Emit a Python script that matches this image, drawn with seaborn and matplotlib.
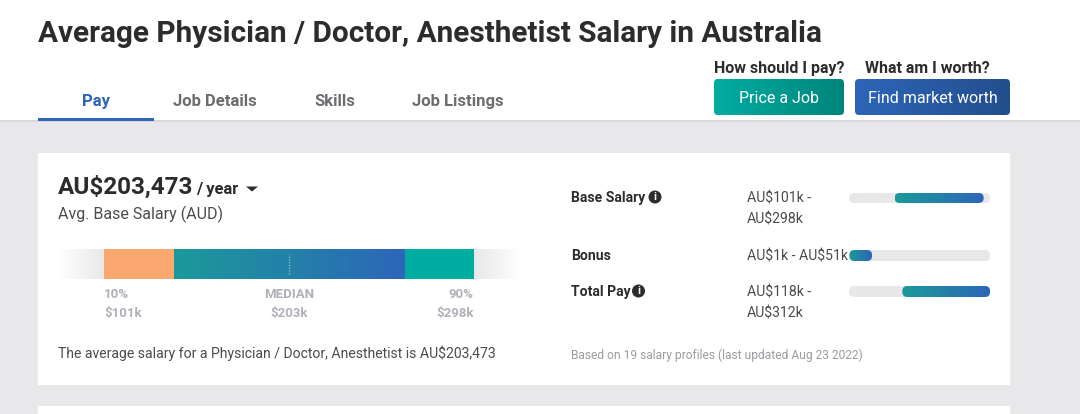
import matplotlib
matplotlib.use('Agg')
import matplotlib.pyplot as plt
from matplotlib.colors import LinearSegmentedColormap
from matplotlib.patches import Circle, FancyBboxPatch, Polygon, Rectangle
import numpy as np
import seaborn as sns

# Datos de la tarjeta
title = 'Average Physician / Doctor, Anesthetist Salary in Australia'
tabs = ['Pay', 'Job Details', 'Skills', 'Job Listings']
prompts = ['How should I pay?', 'What am I worth?']
buttons = ['Price a Job', 'Find market worth']

# Banda principal: anchos en % de la pista
band_widths = [10, 15, 50, 15, 10]
band_marks = [10, 50, 90]
band_mark_names = ['10%', 'MEDIAN', '90%']
band_mark_values = ['$101k', '$203k', '$298k']

# Rangos de la derecha, en miles de AUD
pay_names = ['Base Salary', 'Bonus', 'Total Pay']
pay_lows = [101, 1, 118]
pay_highs = [298, 51, 312]
pay_labels = [['AU$101k -', 'AU$298k'], ['AU$1k - AU$51k'], ['AU$118k -', 'AU$312k']]

W, H = 1080, 414
DARK = '#2e2b2b'
TEXT = '#4b4b4f'
GREY_BG = '#e8e8ea'
BLUE = '#2d66b9'
TEAL = '#00ada2'
ORANGE = '#fba870'
MID_TEAL = '#1b9a9a'

sns.set_theme(style='white')
plt.rcParams['font.family'] = ['Roboto', 'DejaVu Sans']


def px_axes(fig, x0, y0, x1, y1):
    ax = fig.add_axes([x0 / W, 1 - y1 / H, (x1 - x0) / W, (y1 - y0) / H])
    ax.patch.set_alpha(0)
    return ax


def label(ax, x, y, s, size, color=DARK, weight='normal', ha='left'):
    # size en px de la captura; los $ son literales
    # +1 porque va='center' queda un pixel alto
    ax.text(x, y + 1, s, fontsize=size * 0.72, color=color, fontweight=weight,
            ha=ha, va='center', parse_math=False)


def gradient_box(ax, x0, x1, y0, y1, colors, clip=None, zorder=2):
    cmap = LinearSegmentedColormap.from_list('g', colors)
    grad = np.linspace(0, 1, 256).reshape(1, -1)
    im = ax.imshow(grad, extent=(x0, x1, y0, y1), cmap=cmap, aspect='auto',
                   interpolation='bilinear', zorder=zorder)
    if clip is not None:
        im.set_clip_path(clip)
    return im


def range_bar(ax, low, high, color, **kws):
    # barra horizontal de seaborn que empieza en low y acaba en high
    before = len(ax.patches)
    sns.barplot(x=[high - low], y=[0], orient='h', left=[low], color=color,
                saturation=1, width=1, ax=ax, **kws)
    return ax.patches[before]


def pill(ax, bar, colors, radius, px_w, px_h, zorder):
    # sustituye la barra por una versión redondeada con degradado
    x0, y0 = bar.get_x(), bar.get_y()
    w, h = bar.get_width(), bar.get_height()
    bar.set_visible(False)
    xspan = ax.get_xlim()[1] - ax.get_xlim()[0]
    yspan = abs(ax.get_ylim()[1] - ax.get_ylim()[0])
    sx, sy = xspan / px_w, yspan / px_h
    shape = FancyBboxPatch((x0, y0), w, h,
                           boxstyle=f'round,pad=0,rounding_size={radius * sx}',
                           mutation_aspect=sy / sx, facecolor='none',
                           edgecolor='none', transform=ax.transData)
    ax.add_patch(shape)
    gradient_box(ax, x0, x0 + w, y0, y0 + h, colors, clip=shape, zorder=zorder)


# 0.01 para que 4.14 * 100 no se trunque a 413 px
fig = plt.figure(figsize=(W / 100, (H + 0.01) / 100), dpi=100, facecolor='white')

# Lienzo de fondo en píxeles
bg = fig.add_axes([0, 0, 1, 1])
bg.set_xlim(0, W)
bg.set_ylim(H, 0)
bg.axis('off')
bg.add_patch(Rectangle((0, 121), W, H - 121, color=GREY_BG, lw=0))
bg.add_patch(Rectangle((0, 120.5), W, 1.5, color='#d8d8dc', lw=0))
bg.add_patch(Rectangle((38, 153), 972, 232, color='white', lw=0))
bg.add_patch(Rectangle((38, 406), 972, 10, color='white', lw=0))
bg.add_patch(Rectangle((38, 118.5), 116, 2.5, color=BLUE, lw=0))

label(bg, 38, 32.5, title, 29.8, weight='bold')
for x, s, c in zip([96, 215, 335, 458], tabs, [BLUE, '#6c6c70', '#6c6c70', '#6c6c70']):
    label(bg, x, 100.5, s, 16.6, color=c, weight='bold', ha='center')

for x, s in zip([779.5, 927], prompts):
    label(bg, x, 67, s, 16, weight='bold', ha='center')

button_boxes = [(714, 844), (855, 1010)]
button_colors = [(TEAL, '#00857a'), (BLUE, '#234e8c')]
for (x0, x1), cols, s in zip(button_boxes, button_colors, buttons):
    shape = FancyBboxPatch((x0, 79), x1 - x0, 36, boxstyle='round,pad=0,rounding_size=4',
                           facecolor='none', edgecolor='none')
    bg.add_patch(shape)
    gradient_box(bg, x0, x1, 115, 79, cols, clip=shape)
    label(bg, (x0 + x1) / 2, 97, s, 16, color='white', ha='center')
bg.set_xlim(0, W)
bg.set_ylim(H, 0)

# Cabecera de la tarjeta
label(bg, 58, 186.5, 'AU$203,473', 24.2, weight='bold')
label(bg, 196, 188.5, '/ year', 16.5, weight='bold')
bg.add_patch(Polygon([(246, 186.5), (258, 186.5), (252, 191.5)], color=DARK, lw=0))
label(bg, 58, 213, 'Avg. Base Salary (AUD)', 16, color=TEXT)
label(bg, 58, 352.5, 'The average salary for a Physician / Doctor, Anesthetist is AU$203,473',
      14, color=TEXT)

# Banda principal, eje en % de la pista
band = px_axes(fig, 58, 249, 520, 279)
edges = np.cumsum([0] + band_widths)
band_colors = [('#ffffff', GREY_BG), (ORANGE, ORANGE), (MID_TEAL, BLUE), (TEAL, TEAL), (GREY_BG, '#ffffff')]
band_bars = []
for left, width in zip(edges[:-1], band_widths):
    band_bars.append(range_bar(band, left, left + width, ORANGE))
band.set_xlim(0, 100)
band.set_ylim(-0.5, 0.5)
band.axis('off')
for bar, cols in zip(band_bars, band_colors):
    x0 = bar.get_x()
    gradient_box(band, x0, x0 + bar.get_width(), -0.5, 0.5, cols)
    bar.set_visible(False)
band.set_xlim(0, 100)
band.set_ylim(-0.5, 0.5)
band.plot([band_marks[1]] * 2, [-0.33, 0.33], color='#7fbccb', lw=1, ls=(0, (1, 1)), zorder=4)

# Etiquetas de percentiles alineadas con la banda
mark_ax = px_axes(fig, 58, 285, 520, 322)
mark_ax.set_xlim(0, 100)
mark_ax.set_ylim(37, 0)
mark_ax.axis('off')
for x, name, value, ha in zip(band_marks, band_mark_names, band_mark_values, ['left', 'center', 'right']):
    label(mark_ax, x, 8.5, name, 13.2, color='#b1afb9', weight='bold', ha=ha)
    label(mark_ax, x, 27.5, value, 13.2, color='#b1afb9', weight='bold', ha=ha)

# Columna derecha
row_y = [197, 255, 291]
bar_spans = [(193, 203), (250, 261), (286, 297)]
icon_x = [655, None, 638.5]
for name, y, ix, lines in zip(pay_names, row_y, icon_x, pay_labels):
    label(bg, 571, y, name, 14, weight='bold')
    if ix is not None:
        bg.add_patch(Circle((ix, y), 6.5, color=DARK, lw=0))
        bg.text(ix, y, 'i', fontsize=8, color='white', fontweight='bold', ha='center', va='center')
    for k, line in enumerate(lines):
        label(bg, 747, y + k * 21.5, line, 14, color=TEXT)
label(bg, 571, 354.5, 'Based on 19 salary profiles (last updated Aug 23 2022)', 12, color='#9b9ba1')

for low, high, (y0, y1) in zip(pay_lows, pay_highs, bar_spans):
    ax = px_axes(fig, 849, y0, 990, y1)
    track = range_bar(ax, 0, max(pay_highs), GREY_BG)
    fill = range_bar(ax, low, high, BLUE)
    ax.set_xlim(0, max(pay_highs))
    ax.set_ylim(-0.5, 0.5)
    ax.axis('off')
    pill(ax, track, (GREY_BG, GREY_BG), 5, 141, y1 - y0, 2)
    pill(ax, fill, (MID_TEAL, BLUE), 5, 141, y1 - y0, 3)
    ax.set_xlim(0, max(pay_highs))
    ax.set_ylim(-0.5, 0.5)

fig.savefig('out.png', dpi=100)
